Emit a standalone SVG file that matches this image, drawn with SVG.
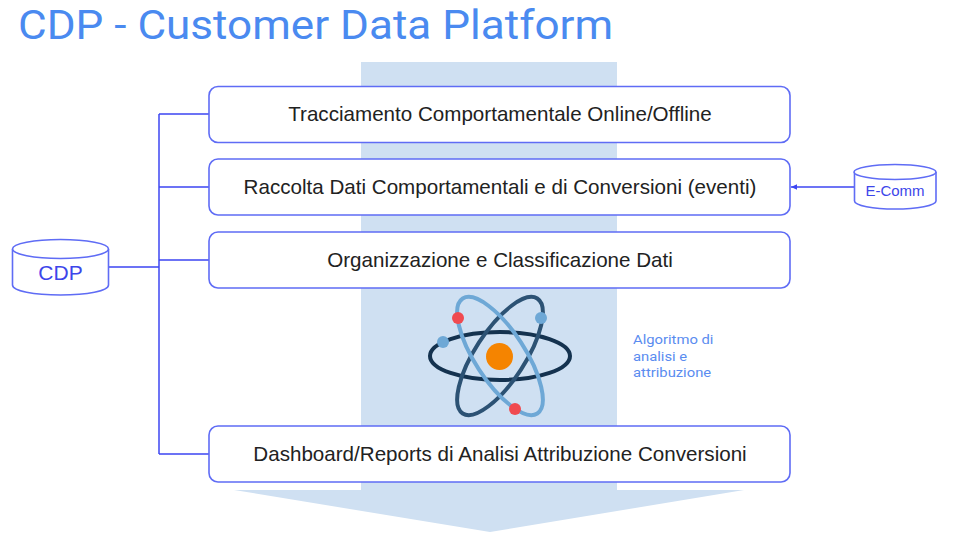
<svg xmlns="http://www.w3.org/2000/svg" width="960" height="540" viewBox="0 0 960 540">
<style>
text{font-family:Roboto,"Liberation Sans",sans-serif}
.box{fill:#fff;stroke:#5f6cf5;stroke-width:1.6}
.lbl{font-family:"Liberation Sans",Arial,sans-serif;font-size:20.6px;fill:#222;text-anchor:middle}
.con{fill:none;stroke:#3d46f2;stroke-width:1.5}
.db{fill:#fff;stroke:#5f6cf5;stroke-width:1.6}
.dbt{font-family:"Liberation Sans",Arial,sans-serif;fill:#3d46ea;text-anchor:middle}
</style>
<defs><marker id="arr" markerUnits="userSpaceOnUse" markerWidth="7" markerHeight="7" refX="6" refY="3.500" orient="auto"><path d="M0,0.800L6,3.500L0,6.200z" fill="#3d46f2"/></marker></defs>
<rect width="960" height="540" fill="#fff"/>
<text transform="translate(18 38.500) scale(1.075 1)" font-size="41" fill="#4a8af0" id="title">CDP - Customer Data Platform</text>
<g id="arrow"><path d="M361,62H617V490H744L490,532L234,490H361z" fill="#cfe0f2"/></g>
<g id="connectors">
<path class="con" d="M159,114V454"/>
<path class="con" d="M159,114H209M159,187H209M159,260H209M159,454H209M108,267H159"/>
<path class="con" d="M854,187H791" marker-end="url(#arr)"/>
</g>
<g id="n1"><rect class="box" x="209" y="86.500" width="581" height="56" rx="9"/><text class="lbl" x="500" y="121">Tracciamento Comportamentale Online/Offline</text></g>
<g id="n2"><rect class="box" x="209" y="159" width="581" height="56" rx="9"/><text class="lbl" x="500" y="194">Raccolta Dati Comportamentali e di Conversioni (eventi)</text></g>
<g id="n3"><rect class="box" x="209" y="232" width="581" height="56" rx="9"/><text class="lbl" x="500" y="267">Organizzazione e Classificazione Dati</text></g>
<g id="n4"><rect class="box" x="209" y="426" width="581" height="56" rx="9"/><text class="lbl" x="500" y="461">Dashboard/Reports di Analisi Attribuzione Conversioni</text></g>
<g id="cdp"><path class="db" d="M12.500,249V285C12.500,291 34,295 60.500,295S108.500,291 108.500,285V249"/><ellipse class="db" cx="60.500" cy="249" rx="48" ry="9.500"/><text class="dbt" x="60.500" y="280" font-size="21">CDP</text></g>
<g id="ecomm"><path class="db" d="M854.500,172V201C854.500,205.500 873,209 895,209S936,205.500 936,201V172"/><ellipse class="db" cx="895" cy="172" rx="41" ry="7.500"/><text class="dbt" x="895" y="196" font-size="15">E-Comm</text></g>
<g id="atom">
<ellipse cx="500" cy="356" rx="70" ry="24" fill="none" stroke="#14324f" stroke-width="4"/>
<ellipse cx="500" cy="356" rx="68.500" ry="25" fill="none" stroke="#2c5274" stroke-width="4" transform="rotate(-57 500 356)"/>
<ellipse cx="500" cy="356" rx="68.500" ry="25" fill="none" stroke="#6ea8d6" stroke-width="4" transform="rotate(57 500 356)"/>
<circle cx="499.500" cy="356.500" r="13.500" fill="#f58400"/>
<circle cx="443" cy="342" r="6" fill="#6ea8d6"/>
<circle cx="541" cy="318" r="6" fill="#6ea8d6"/>
<circle cx="458" cy="318" r="6" fill="#f04a50"/>
<circle cx="515" cy="409" r="6" fill="#f04a50"/>
</g>
<g id="algo" font-size="13.500" fill="#5a8cf0"><text transform="translate(633 344) scale(1.096 1)">Algoritmo di</text><text transform="translate(633 361) scale(1.096 1)">analisi e</text><text transform="translate(633 377) scale(1.096 1)">attribuzione</text></g>
</svg>
